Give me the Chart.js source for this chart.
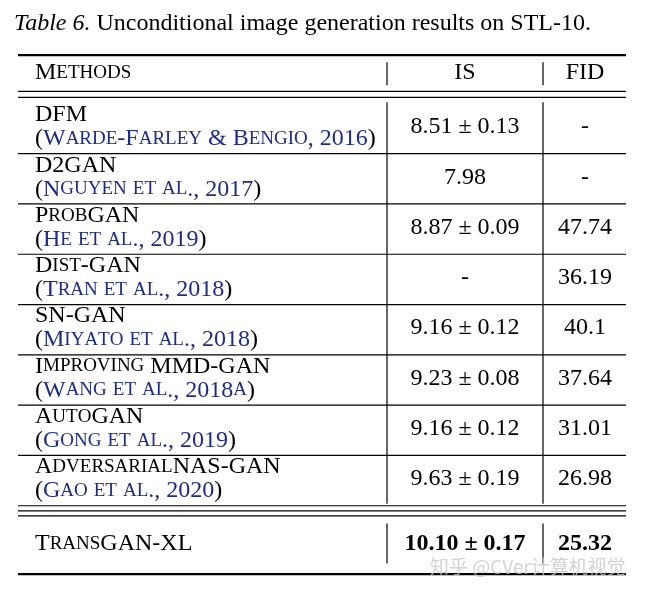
<!DOCTYPE html>
<html>
<head>
<meta charset="utf-8">
<script src="https://cdn.jsdelivr.net/npm/chart.js@4"></script>
<style>
  body { margin: 0; background: #fff; }
  canvas { display: block; }
</style>
</head>
<body>
<canvas id="tbl" width="647" height="590"></canvas>
<script>
'use strict'

const title = ['Table 6.', ' Unconditional image generation results on STL-10.']
const headers = ['Methods', 'IS', 'FID']
const methods = ['DFM', 'D2GAN', 'ProbGAN', 'Dist-GAN', 'SN-GAN', 'Improving MMD-GAN', 'AutoGAN', 'AdversarialNAS-GAN']
const citations = ['Warde-Farley & Bengio, 2016', 'Nguyen et al., 2017', 'He et al., 2019', 'Tran et al., 2018',
    'Miyato et al., 2018', 'Wang et al., 2018a', 'Gong et al., 2019', 'Gao et al., 2020']
const isScores = ['8.51 ± 0.13', '7.98', '8.87 ± 0.09', '-', '9.16 ± 0.12', '9.23 ± 0.08', '9.16 ± 0.12', '9.63 ± 0.19']
const fidScores = ['-', '-', '47.74', '36.19', '40.1', '37.64', '31.01', '26.98']
const oursName = 'TransGAN-XL'
const oursIS = '10.10 ± 0.17'
const oursFID = '25.32'
const watermark = '知乎 @CVer计算机视觉'

const FONT = '"Liberation Serif", "DejaVu Serif", serif'
const BLUE = '#1d2d84'
const SIZE = 24

// draw text where lowercase letters become small capitals
function smallCaps(ctx, str, x, y, size, color) {
    ctx.fillStyle = color
    ctx.textAlign = 'left'
    for (const ch of str) {
        const lower = ch !== ch.toUpperCase()
        ctx.font = `${lower ? Math.round(size * 0.8) : size}px ${FONT}`
        const c = lower ? ch.toUpperCase() : ch
        ctx.fillText(c, x, y)
        x += ctx.measureText(c).width
    }
    return x
}

const tablePlugin = {
    id: 'tablePlugin',
    afterDraw(chart) {
        const ctx = chart.ctx
        const xs = chart.scales.x
        const ys = chart.scales.y
        const X = v => xs.getPixelForValue(v)
        const Y = v => ys.getPixelForValue(v)
        const left = X(18), right = X(626), v1 = X(387), v2 = X(543)
        const colIS = X(465), colFID = X(585), colM = X(35)

        ctx.save()
        ctx.textBaseline = 'middle'
        ctx.fillStyle = '#000'

        // title
        ctx.textAlign = 'left'
        ctx.font = `italic ${SIZE}px ${FONT}`
        ctx.fillText(title[0], 14, 24)
        const tw = ctx.measureText(title[0]).width
        ctx.font = `${SIZE}px ${FONT}`
        ctx.fillText(title[1], 14 + tw, 24)

        const hline = (yv, w) => {
            ctx.strokeStyle = '#000'
            ctx.lineWidth = w
            ctx.beginPath(); ctx.moveTo(left, Y(yv)); ctx.lineTo(right, Y(yv)); ctx.stroke()
        }
        const vline = (x, a, b) => {
            ctx.strokeStyle = '#000'
            ctx.lineWidth = 1.2
            ctx.beginPath(); ctx.moveTo(x, Y(a)); ctx.lineTo(x, Y(b)); ctx.stroke()
        }

        const hdr = -1.03
        hline(-1.39, 2.2)
        hline(-0.67, 1.2)
        hline(-0.55, 1.2)
        for (let i = 0; i < methods.length; i++) hline(i + 0.57, 1.2)
        hline(7.67, 1.2)
        hline(7.77, 1.2)
        hline(8.93, 2.2)

        vline(v1, hdr - 0.22, hdr + 0.24)
        vline(v2, hdr - 0.22, hdr + 0.24)
        vline(v1, -0.45, 7.53)
        vline(v2, -0.45, 7.53)
        vline(v1, 7.92, 8.72)
        vline(v2, 7.92, 8.72)

        // header
        smallCaps(ctx, headers[0], colM, Y(hdr), SIZE, '#000')
        ctx.font = `${SIZE}px ${FONT}`
        ctx.textAlign = 'center'
        ctx.fillStyle = '#000'
        ctx.fillText(headers[1], colIS, Y(hdr))
        ctx.fillText(headers[2], colFID, Y(hdr))

        // rows
        methods.forEach((m, i) => {
            const yc = Y(i)
            smallCaps(ctx, m, colM, yc - 10, SIZE, '#000')
            ctx.font = `${SIZE}px ${FONT}`
            ctx.textAlign = 'left'
            ctx.fillStyle = '#000'
            ctx.fillText('(', colM, yc + 14)
            let x = colM + ctx.measureText('(').width
            x = smallCaps(ctx, citations[i], x, yc + 14, SIZE, BLUE)
            ctx.font = `${SIZE}px ${FONT}`
            ctx.fillStyle = '#000'
            ctx.fillText(')', x, yc + 14)
            ctx.textAlign = 'center'
            ctx.fillText(isScores[i], colIS, yc + 2)
            ctx.fillText(fidScores[i], colFID, yc + 2)
        })

        // our result
        const yo = Y(8.33)
        smallCaps(ctx, oursName, colM, yo, SIZE, '#000')
        ctx.font = `bold ${SIZE}px ${FONT}`
        ctx.textAlign = 'center'
        ctx.fillStyle = '#000'
        ctx.fillText(oursIS, colIS, yo)
        ctx.fillText(oursFID, colFID, yo)

        ctx.font = `19px "Noto Sans CJK SC", sans-serif`
        ctx.textAlign = 'left'
        ctx.fillStyle = 'rgba(200,200,200,0.8)'
        ctx.fillText(watermark, 430, Y(8.78))
        ctx.restore()
    }
}

new Chart(document.getElementById('tbl'), {
    type: 'scatter',
    data: {
        datasets: [{
            data: methods.map((m, i) => ({ x: 465, y: i })),
            pointRadius: 0
        }]
    },
    options: {
        responsive: false,
        animation: false,
        layout: { padding: 0 },
        plugins: { legend: { display: false }, tooltip: { enabled: false } },
        scales: {
            x: { type: 'linear', min: 0, max: 647, display: false },
            y: { type: 'linear', min: -125 / 50.3, max: 465 / 50.3, reverse: true, display: false }
        }
    },
    plugins: [tablePlugin]
})
</script>
</body>
</html>
